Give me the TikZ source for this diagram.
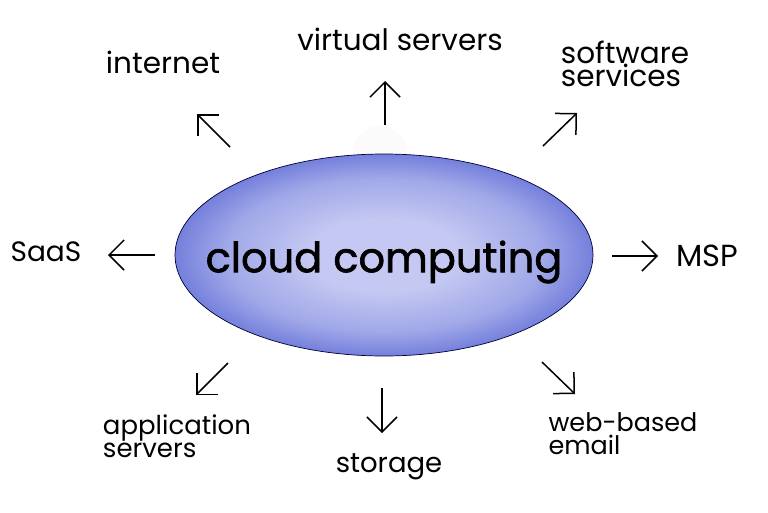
\documentclass[tikz,border=0pt]{standalone}
\usepackage{fontspec}
\setmainfont{Poppins}
\newfontfamily\titlefont[FakeBold=1.5]{Poppins}
\usetikzlibrary{shapes.geometric}
\usetikzlibrary{arrows.meta}

\definecolor{cloudEdge}{HTML}{7480DC}
\definecolor{cloudMid}{HTML}{A0A8E8}
\definecolor{cloudCentre}{HTML}{C4C8F2}
\pgfdeclareradialshading{cloudShade}{\pgfpoint{0bp}{0bp}}{%
  color(0bp)=(cloudCentre); color(9bp)=(cloudCentre); color(19bp)=(cloudMid); color(25bp)=(cloudEdge); color(100bp)=(cloudEdge)}

\tikzset{
  cloudnode/.style={ellipse, draw=black!80!blue, line width=0.7pt, shading=cloudShade, minimum width=418pt, minimum height=202pt, inner sep=0pt},
  topic/.style={font=\fontsize{#1}{23}\selectfont, inner sep=0pt, align=left},
  flow/.style={line width=1.5pt, -{Straight Barb[length=15pt,width=30pt,line width=1.5pt]}}
}

\begin{document}
\begin{tikzpicture}[x=1pt,y=-1pt]
	\useasboundingbox (0,0) rectangle (768,512);
	
	% faint patch over the cloud
	\fill[black!1.5] (380,155) ellipse (27 and 30);
	
	% centre
	\node[cloudnode] (cloud) at (384,255) {};
	\node[font=\titlefont\fontsize{41.5}{44}\selectfont, inner sep=0pt] (title) at (384,262) {cloud computing};
	
	% labels
	\node[topic=29.5] (internet) at (163,62) {internet};
	\node[topic=29.5] (virtual) at (400,39) {virtual servers};
	\node[topic=29.5] (software) at (625,64) {software\\services};
	\node[topic=28] (saas) at (46,252) {SaaS};
	\node[topic=30.5] (msp) at (707,256) {MSP};
	\node[topic=26] (application) at (177,436) {application\\servers};
	\node[topic=27.5] (storage) at (389,467) {storage};
	\node[topic=25.5] (webbased) at (623,434) {web-based\\email};
	
	% arrows
	\foreach \name/\xa/\ya/\xb/\yb in {internet/230/147/197/114, virtual/385/125/385/81, software/543/146/577/113, saas/155/255/108/255, msp/612/256/658/256, application/228/363/196/395, storage/382/388/382/433, webbased/542/362/575/394}
		{\coordinate (from\name) at (\xa,\ya);
		 \coordinate (to\name) at (\xb,\yb);
		 \draw[flow] (from\name) -- (to\name);}
\end{tikzpicture}
\end{document}
